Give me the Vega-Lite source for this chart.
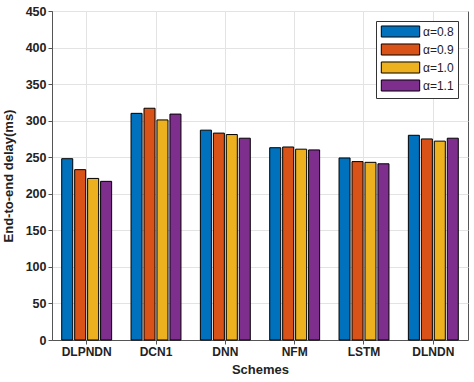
{
  "$schema": "https://vega.github.io/schema/vega-lite/v6.json",
  "width": 416,
  "height": 329,
  "autosize": "none",
  "padding": {"left": 52, "top": 11, "right": 6, "bottom": 42},
  "background": "white",
  "config": {
    "font": "Liberation Sans",
    "view": {"stroke": "#555555", "strokeWidth": 1},
    "axis": {"labelFont": "Liberation Sans", "titleFont": "Liberation Sans"}
  },
  "data": {
    "values": [
      {"scheme": "DLPNDN", "alpha": "α=0.8", "delay": 248},
      {"scheme": "DLPNDN", "alpha": "α=0.9", "delay": 233},
      {"scheme": "DLPNDN", "alpha": "α=1.0", "delay": 221},
      {"scheme": "DLPNDN", "alpha": "α=1.1", "delay": 217},
      {"scheme": "DCN1", "alpha": "α=0.8", "delay": 310},
      {"scheme": "DCN1", "alpha": "α=0.9", "delay": 317},
      {"scheme": "DCN1", "alpha": "α=1.0", "delay": 301},
      {"scheme": "DCN1", "alpha": "α=1.1", "delay": 309},
      {"scheme": "DNN", "alpha": "α=0.8", "delay": 287},
      {"scheme": "DNN", "alpha": "α=0.9", "delay": 283},
      {"scheme": "DNN", "alpha": "α=1.0", "delay": 281},
      {"scheme": "DNN", "alpha": "α=1.1", "delay": 276},
      {"scheme": "NFM", "alpha": "α=0.8", "delay": 263},
      {"scheme": "NFM", "alpha": "α=0.9", "delay": 264},
      {"scheme": "NFM", "alpha": "α=1.0", "delay": 261},
      {"scheme": "NFM", "alpha": "α=1.1", "delay": 260},
      {"scheme": "LSTM", "alpha": "α=0.8", "delay": 249},
      {"scheme": "LSTM", "alpha": "α=0.9", "delay": 244},
      {"scheme": "LSTM", "alpha": "α=1.0", "delay": 243},
      {"scheme": "LSTM", "alpha": "α=1.1", "delay": 241},
      {"scheme": "DLNDN", "alpha": "α=0.8", "delay": 280},
      {"scheme": "DLNDN", "alpha": "α=0.9", "delay": 275},
      {"scheme": "DLNDN", "alpha": "α=1.0", "delay": 272},
      {"scheme": "DLNDN", "alpha": "α=1.1", "delay": 276}
    ]
  },
  "mark": {"type": "bar", "stroke": "black", "strokeWidth": 1},
  "encoding": {
    "x": {
      "field": "scheme",
      "type": "nominal",
      "sort": ["DLPNDN", "DCN1", "DNN", "NFM", "LSTM", "DLNDN"],
      "scale": {"paddingInner": 0.28, "paddingOuter": 0.14},
      "axis": {
        "title": "Schemes",
        "labelAngle": 0,
        "labelFontSize": 12,
        "labelFontWeight": "bold",
        "labelColor": "#222222",
        "titleFontSize": 13,
        "titleFontWeight": "bold",
        "titleColor": "#222222",
        "titlePadding": 6,
        "domainColor": "#555555",
        "tickColor": "#555555",
        "tickSize": 4,
        "bandPosition": 0.5,
        "grid": true,
        "gridColor": "#e3e3e3"
      }
    },
    "xOffset": {
      "field": "alpha",
      "type": "nominal",
      "scale": {"paddingInner": 0.15}
    },
    "y": {
      "field": "delay",
      "type": "quantitative",
      "scale": {"domain": [0, 450], "nice": false},
      "axis": {
        "title": "End-to-end delay(ms)",
        "values": [0, 50, 100, 150, 200, 250, 300, 350, 400, 450],
        "labelFontSize": 12.5,
        "labelFontWeight": "bold",
        "labelColor": "#222222",
        "titleFontSize": 13,
        "titleFontWeight": "bold",
        "titleColor": "#222222",
        "titlePadding": 10,
        "domainColor": "#555555",
        "tickColor": "#555555",
        "tickSize": 4,
        "gridColor": "#e3e3e3"
      }
    },
    "color": {
      "field": "alpha",
      "type": "nominal",
      "scale": {
        "domain": ["α=0.8", "α=0.9", "α=1.0", "α=1.1"],
        "range": ["#0072BD", "#D95319", "#EDB120", "#7E2F8E"]
      },
      "legend": {
        "title": null,
        "orient": "top-right",
        "offset": 10,
        "fillColor": "white",
        "strokeColor": "#333333",
        "padding": 4,
        "symbolType": "M-3.2,-0.92H3.2V0.92H-3.2Z",
        "symbolSize": 144,
        "symbolOffset": 14,
        "symbolStrokeColor": "black",
        "symbolStrokeWidth": 1,
        "symbolOpacity": 1,
        "labelFontSize": 12,
        "labelColor": "#222222",
        "labelOffset": 16,
        "rowPadding": 1
      }
    }
  }
}
